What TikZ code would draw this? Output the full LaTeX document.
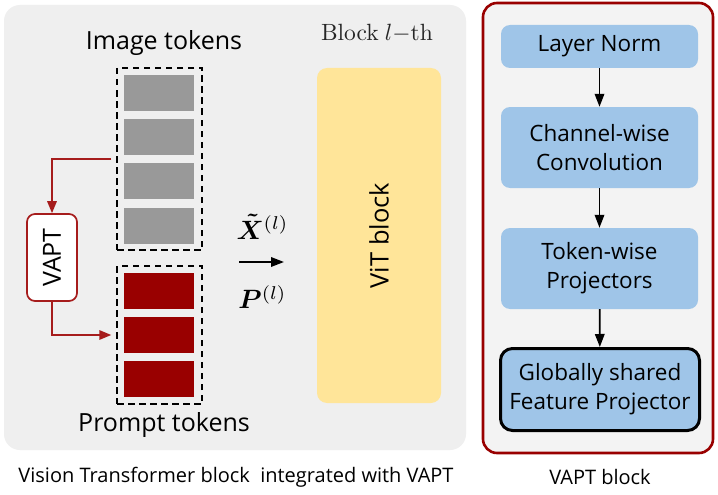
\documentclass[tikz,border=0pt]{standalone}
\usepackage{graphicx}
\usepackage{amsmath,bm}
\usepackage[no-math]{fontspec}
\setmainfont{Open Sans}
\usetikzlibrary{arrows.meta}
\definecolor{panelgray}{HTML}{EFEFEF}
\definecolor{rpanel}{HTML}{F3F3F3}
\definecolor{tokgray}{HTML}{999999}
\definecolor{tokred}{HTML}{990000}
\definecolor{linered}{HTML}{A61C1C}
\definecolor{vityellow}{HTML}{FFE599}
\definecolor{boxblue}{HTML}{9FC5E8}
\tikzset{
  tok/.style={minimum width=70pt,minimum height=36pt,inner sep=0pt},
  imgtok/.style={tok,fill=tokgray},
  prmtok/.style={tok,fill=tokred},
  dashbox/.style={draw=black,dashed,dash pattern=on 6.5pt off 4.5pt,line width=1.5pt,minimum width=85pt,inner sep=0pt},
  bigtext/.style={font=\fontsize{25}{29}\selectfont},
  redarrow/.style={draw=linered,line width=1.7pt,-{Triangle[length=12pt,width=9.5pt]}},
  blkarrow/.style={draw=black,line width=1.8pt,-{Triangle[length=13pt,width=9.5pt]}},
  flowbox/.style={fill=boxblue,rounded corners=9pt,minimum width=197pt,inner sep=0pt,align=center,font=\fontsize{22.5}{29}\selectfont},
}
\begin{document}
\begin{tikzpicture}[x=1pt,y=-1pt]
\useasboundingbox (0,0) rectangle (718,495);
\fill[white] (0,0) rectangle (718,495);
% left panel
\node[fill=panelgray,rounded corners=16pt,minimum width=462pt,minimum height=445pt,inner sep=0pt] (left) at (235,227.5) {};
\node[bigtext] (imglabel) at (164,43) {Image tokens};
\node[bigtext] (prmlabel) at (164,425) {Prompt tokens};
\node[text=black!85] (blocklabel) at (377,33) {\scalebox{2.35}{$\mathrm{Block}\ l\mathrm{-th}$}};
% tokens
\node[dashbox,minimum height=182pt] (imgbox) at (159.5,159) {};
\node[dashbox,minimum height=138pt] (prmbox) at (159.5,335) {};
\node[imgtok] (i1) at (159,93) {};
\node[imgtok] (i2) at (159,137) {};
\node[imgtok] (i3) at (159,181) {};
\node[imgtok] (i4) at (159,225.5) {};
\node[prmtok] (p1) at (159,291) {};
\node[prmtok] (p2) at (159,335) {};
\node[prmtok] (p3) at (159,379) {};
% VAPT
\node[draw=linered,line width=1.7pt,fill=white,rounded corners=8pt,minimum width=50pt,minimum height=87pt,inner sep=0pt] (vapt) at (52,257.5) {};
\node[rotate=90,bigtext] (vapttext) at (vapt.center) {VAPT};
\draw[redarrow,shorten <=5pt] (imgbox.west) -| (vapt.north);
\draw[redarrow,shorten >=5pt] (vapt.south) |- (prmbox.west);
% math
\node[inner sep=0pt] (xl) at (262.5,227) {\scalebox{2.65}{$\bm{\tilde{X}}^{(l)}$}};
\node[inner sep=0pt] (pl) at (262.5,297) {\scalebox{2.65}{$\bm{P}^{(l)}$}};
\coordinate (a1) at (239,262);
\coordinate (a2) at (284,262);
\draw[blkarrow] (a1) -- (a2);
% ViT
\node[fill=vityellow,rounded corners=10pt,minimum width=124pt,minimum height=335pt,inner sep=0pt] (vit) at (379,235.5) {};
\node[rotate=90,font=\fontsize{25.5}{29}\selectfont] (vittext) at (vit.center) {ViT block};
% right panel
\node[draw=tokred,line width=2.6pt,fill=rpanel,rounded corners=14pt,minimum width=230pt,minimum height=450pt,inner sep=0pt] (right) at (598,228) {};
\node[flowbox,minimum height=43pt] (ln) at (599.5,46.5) {Layer Norm};
\node[flowbox,minimum height=81pt] (cw) at (599.5,147.5) {Channel-wise\\Convolution};
\node[flowbox,minimum height=81pt] (tw) at (599.5,268.5) {Token-wise\\Projectors};
\node[flowbox,draw=black,line width=3pt,rounded corners=12pt,minimum width=199pt,minimum height=82pt] (gs) at (600,389.5) {Globally shared\\Feature Projector};
\draw[blkarrow] (ln) -- (cw);
\draw[blkarrow] (cw) -- (tw);
\draw[blkarrow] (tw) -- (gs);
% captions
\node[font=\fontsize{20}{24}\selectfont] (cap1) at (236,477) {Vision Transformer block\ \ integrated with VAPT};
\node[font=\fontsize{20}{24}\selectfont] (cap2) at (600,477) {VAPT block};
\end{tikzpicture}
\end{document}
